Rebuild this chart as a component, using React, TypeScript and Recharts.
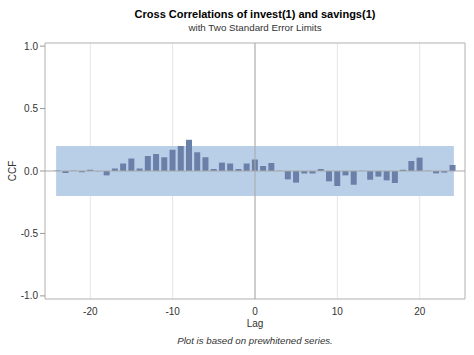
import React from 'react';
import {
  ComposedChart, Bar, XAxis, YAxis, CartesianGrid, ReferenceArea, ReferenceLine,
} from 'recharts';

const lags = [
  -24, -23, -22, -21, -20, -19, -18, -17, -16, -15, -14, -13, -12, -11, -10, -9, -8, -7, -6, -5, -4, -3, -2, -1,
  0, 1, 2, 3, 4, 5, 6, 7, 8, 9, 10, 11, 12, 13, 14, 15, 16, 17, 18, 19, 20, 21, 22, 23, 24,
];
const ccfValues = [
  0.004, -0.016, 0.003, -0.01, 0.01, -0.002, -0.035, 0.02, 0.06, 0.1, 0.02, 0.12, 0.136, 0.11, 0.17, 0.2, 0.25, 0.15, 0.11, 0.016, 0.067, 0.06, 0.016, 0.06,
  0.093, 0.04, 0.064, 0.002, -0.067, -0.093, -0.02, -0.02, 0.016, -0.083, -0.12, -0.035, -0.11, 0.002, -0.07, -0.045, -0.075, -0.096, 0.01, 0.08, 0.107, 0.002, -0.019, -0.013, 0.048,
];
const stdErrLimit = 0.2;
const xTicks = [-20, -10, 0, 10, 20];
const yTicks = [-1, -0.5, 0, 0.5, 1];

const data = lags.map((lag, i) => ({ lag, ccf: ccfValues[i] }));

const FONT = '"Liberation Sans", Arial, sans-serif';

export default function App() {
  return (
    <div style={{ position: 'absolute', left: 0, top: 0, width: 474, height: 355, background: '#fff', fontFamily: FONT }}>
      <style>{'body{margin:0}'}</style>
      <div style={{ position: 'absolute', left: 45, width: 420, top: 8, textAlign: 'center', fontSize: 11, fontWeight: 'bold', color: '#000' }}>
        Cross Correlations of invest(1) and savings(1)
      </div>
      <div style={{ position: 'absolute', left: 45, width: 420, top: 22, textAlign: 'center', fontSize: 9.8, color: '#333' }}>
        with Two Standard Error Limits
      </div>
      <ComposedChart width={474} height={355} data={data} margin={{ top: 43, right: 9, left: 12, bottom: 0 }}>
        <CartesianGrid horizontal={false} stroke="#e6e6e6" verticalValues={xTicks} />
        <ReferenceArea x1={-24.15} x2={24.15} y1={-stdErrLimit} y2={stdErrLimit} fill="#b9cfe8" fillOpacity={1} stroke="none" />
        <ReferenceLine y={0} stroke="#a8a8a8" />
        <ReferenceLine x={0} stroke="#a8a8a8" />
        <XAxis
          type="number" dataKey="lag" domain={[-25.5, 25.5]} ticks={xTicks} height={56}
          axisLine={false} tickLine={false} tick={{ fontSize: 10, fill: '#333', fontFamily: FONT }} tickMargin={3}
          label={{ value: 'Lag', position: 'insideTop', offset: 21, fontSize: 10, fill: '#333', fontFamily: FONT }}
        />
        <YAxis
          type="number" domain={[-1.025, 1.025]} ticks={yTicks} width={33} allowDataOverflow
          axisLine={false} tickLine={{ stroke: '#999' }} tickSize={5} tickFormatter={(v: number) => v.toFixed(1)}
          tick={{ fontSize: 10, fill: '#333', fontFamily: FONT }}
          label={{ value: 'CCF', angle: -90, position: 'insideLeft', offset: 0, fontSize: 10, fill: '#333', fontFamily: FONT, style: { textAnchor: 'middle' } }}
        />
        <Bar dataKey="ccf" fill="#6a80a8" barSize={6} isAnimationActive={false} />
        <ReferenceArea x1={-25.5} x2={25.5} y1={-1.025} y2={1.025} fill="none" stroke="#b0b0b0" />
      </ComposedChart>
      <div style={{ position: 'absolute', left: 45, width: 420, top: 335, textAlign: 'center', fontSize: 9.7, fontStyle: 'italic', color: '#333' }}>
        Plot is based on prewhitened series.
      </div>
    </div>
  );
}
